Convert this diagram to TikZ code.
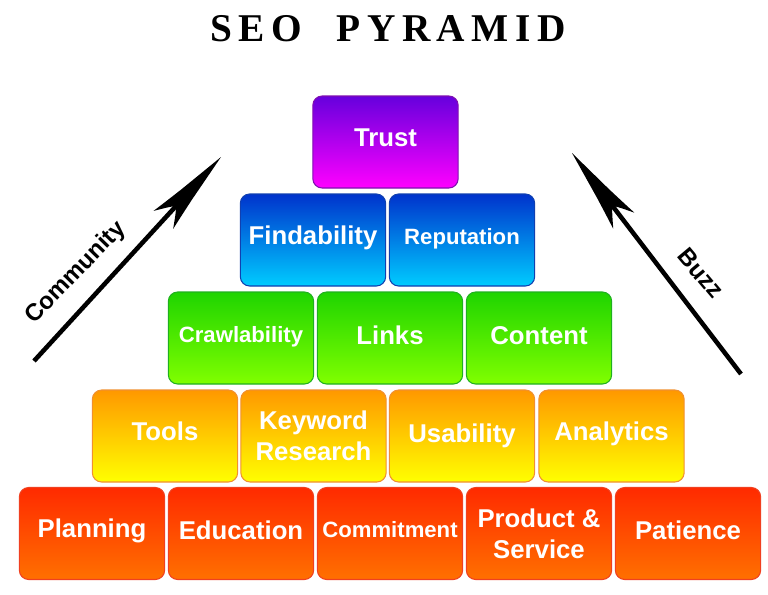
\documentclass[tikz,border=0pt]{standalone}
\usepackage{fontspec}
\setmainfont{Liberation Sans}
\newfontfamily\titlefont[LetterSpace=16.5]{Liberation Serif}

\definecolor{redtop}{HTML}{FF2A00}
\definecolor{redbot}{HTML}{FF7000}
\definecolor{redline}{HTML}{F04020}
\definecolor{ambertop}{HTML}{FF9800}
\definecolor{amberbot}{HTML}{FFFF00}
\definecolor{amberline}{HTML}{F09030}
\definecolor{greentop}{HTML}{1FD400}
\definecolor{greenbot}{HTML}{80FF00}
\definecolor{greenline}{HTML}{20B020}
\definecolor{bluetop}{HTML}{0033CC}
\definecolor{bluebot}{HTML}{00CCFF}
\definecolor{blueline}{HTML}{1040B0}
\definecolor{violettop}{HTML}{6600DD}
\definecolor{violetbot}{HTML}{FF00FF}
\definecolor{violetline}{HTML}{8010B0}

% Long thin arrow head with swept back barbs
\pgfdeclarearrow{
    name=needle,
    setup code={
        \pgfarrowssettipend{0pt}
        \pgfarrowssetlineend{-50pt}
        \pgfarrowssetvisualbackend{-50pt}
        \pgfarrowssetbackend{-64pt}
    },
    drawing code={
        \pgfpathmoveto{\pgfpoint{0pt}{0pt}}
        \pgfpathlineto{\pgfpoint{-38pt}{5.5pt}}
        \pgfpathcurveto{\pgfpoint{-47pt}{7pt}}{\pgfpoint{-56pt}{8.5pt}}{\pgfpoint{-64pt}{10pt}}
        \pgfpathcurveto{\pgfpoint{-58pt}{6pt}}{\pgfpoint{-53pt}{3pt}}{\pgfpoint{-50pt}{0pt}}
        \pgfpathcurveto{\pgfpoint{-53pt}{-3pt}}{\pgfpoint{-58pt}{-6pt}}{\pgfpoint{-64pt}{-10pt}}
        \pgfpathcurveto{\pgfpoint{-56pt}{-8.5pt}}{\pgfpoint{-47pt}{-7pt}}{\pgfpoint{-38pt}{-5.5pt}}
        \pgfpathclose
        \pgfusepathqfill
    }
}

\tikzset{
    brick/.style={minimum width=109pt, minimum height=69pt, inner sep=0pt,
        rounded corners=7pt, line width=0.8pt, text=white, align=center,
        text height=14pt, text depth=8pt,
        font=\fontsize{19.3}{23}\selectfont\bfseries},
    twolines/.style={text height={}, text depth={}},
    lowtext/.style={text depth=5pt},
    smalltext/.style={font=\fontsize{16.6}{20}\selectfont\bfseries},
    redrow/.style={brick, draw=redline, top color=redtop, bottom color=redbot},
    amberrow/.style={brick, draw=amberline, top color=ambertop, bottom color=amberbot},
    greenrow/.style={brick, draw=greenline, top color=greentop, bottom color=greenbot},
    bluerow/.style={brick, draw=blueline, top color=bluetop, bottom color=bluebot},
    violetrow/.style={brick, draw=violetline, top color=violettop, bottom color=violetbot},
    pusharrow/.style={line width=3.4pt, -needle},
    sidetext/.style={font=\fontsize{18}{22}\selectfont\bfseries}
}

\begin{document}
\begin{tikzpicture}[x=0.75pt, y=-0.75pt]

    \useasboundingbox (0,0) rectangle (768,594);

    % Title
    \node (title) at (388,29) {\titlefont\fontsize{29.5}{34}\selectfont\bfseries SEO\hspace{0.88em}PYRAMID};

    % Top of the pyramid
    \node[violetrow] (trust) at (385.5,142) {Trust};

    % Second row
    \node[bluerow] (findability) at (313,240) {Findability};
    \node[bluerow, smalltext] (reputation) at (462,240) {Reputation};

    % Third row
    \node[greenrow, smalltext] (crawlability) at (241,338) {Crawlability};
    \node[greenrow, lowtext] (links) at (390,338) {Links};
    \node[greenrow, lowtext] (content) at (539,338) {Content};

    % Fourth row
    \node[amberrow] (tools) at (165,436) {Tools};
    \node[amberrow, twolines] (keyword) at (313.5,436) {Keyword\\Research};
    \node[amberrow, lowtext] (usability) at (462,436) {Usability};
    \node[amberrow] (analytics) at (611.5,436) {Analytics};

    % Bottom row
    \node[redrow] (planning) at (92,533.5) {Planning};
    \node[redrow, lowtext] (education) at (241,533.5) {Education};
    \node[redrow, smalltext] (commitment) at (390,533.5) {Commitment};
    \node[redrow, twolines] (product) at (539,533.5) {Product \&\\Service};
    \node[redrow, lowtext] (patience) at (688,533.5) {Patience};

    % Side arrows
    \coordinate (commstart) at (34,361);
    \coordinate (commend) at (221,157);
    \coordinate (buzzstart) at (741,374);
    \coordinate (buzzend) at (572,153);
    \draw[pusharrow] (commstart) -- (commend);
    \draw[pusharrow] (buzzstart) -- (buzzend);

    % Arrow labels
    \node[sidetext, rotate=46] (community) at (76,273) {Community};
    \node[sidetext, rotate=-50] (buzz) at (701,273) {Buzz};

\end{tikzpicture}
\end{document}
